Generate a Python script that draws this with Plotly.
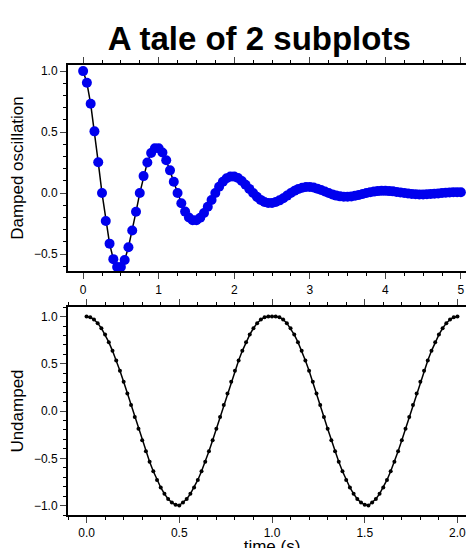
import plotly.graph_objects as go
from plotly.subplots import make_subplots

# damped oscillation (x step 0.05)
x_damped = [round(0.05 * i, 2) for i in range(101)]
y_damped = [1.000, 0.904, 0.732, 0.506, 0.253, 0.0, -0.229, -0.415, -0.542, -0.607,
            -0.607, -0.549, -0.444, -0.307, -0.154, 0.0, 0.139, 0.251, 0.329, 0.368,
            0.368, 0.333, 0.269, 0.186, 0.093, 0.0, -0.084, -0.152, -0.200, -0.223,
            -0.223, -0.202, -0.163, -0.113, -0.057, 0.0, 0.051, 0.092, 0.121, 0.135,
            0.135, 0.123, 0.099, 0.068, 0.034, 0.0, -0.031, -0.056, -0.074, -0.082,
            -0.082, -0.074, -0.060, -0.042, -0.021, 0.0, 0.019, 0.034, 0.044, 0.049,
            0.050, 0.045, 0.036, 0.025, 0.013, 0.0, -0.011, -0.021, -0.027, -0.030,
            -0.030, -0.028, -0.022, -0.015, -0.008, 0.0, 0.007, 0.012, 0.016, 0.018,
            0.018, 0.016, 0.014, 0.009, 0.005, 0.0, -0.004, -0.008, -0.010, -0.011,
            -0.011, -0.010, -0.008, -0.005, -0.003, 0.0, 0.002, 0.005, 0.006, 0.007,
            0.007]

# undamped (x step 0.02)
x_undamped = [round(0.02 * i, 2) for i in range(101)]
half_wave = [1.0, 0.992, 0.969, 0.930, 0.876, 0.809, 0.729, 0.637, 0.536, 0.426,
             0.309, 0.187, 0.063, -0.063, -0.187, -0.309, -0.426, -0.536, -0.637, -0.729,
             -0.809, -0.876, -0.930, -0.969, -0.992, -1.0]
y_undamped = (half_wave + half_wave[-2::-1][1:] + [1.0]) * 2
y_undamped = y_undamped[:101]

top_ticks = [0, 1, 2, 3, 4, 5]
bottom_ticks = [0.0, 0.5, 1.0, 1.5, 2.0]
bottom_ticklabels = ['0.0', '0.5', '1.0', '1.5', '2.0']

font = 'Liberation Sans'

fig = make_subplots(rows=2, cols=1, vertical_spacing=0.08)
fig.add_trace(go.Scatter(x=x_damped, y=y_damped, mode='lines+markers',
                         line=dict(color='black', width=1.5),
                         marker=dict(color='#0000ee', size=10)), row=1, col=1)
fig.add_trace(go.Scatter(x=x_undamped, y=y_undamped, mode='lines+markers',
                         line=dict(color='black', width=1.5),
                         marker=dict(color='black', size=4)), row=2, col=1)

axis_style = dict(showline=True, linecolor='black', linewidth=2, mirror='ticks',
                  ticks='outside', ticklen=6, tickwidth=1, showgrid=False, zeroline=False,
                  automargin=False,
                  tickfont=dict(size=12, color='black'),
                  minor=dict(ticks='outside', ticklen=3, tickcolor='black'))

fig.update_xaxes(**axis_style)
fig.update_yaxes(**axis_style)
fig.update_xaxes(range=[-0.2, 5.2], tickvals=top_ticks, minor_dtick=0.25, row=1, col=1)
fig.update_yaxes(range=[-0.64, 1.05], dtick=0.5, tickformat='.1f', minor_dtick=0.1,
                 title=dict(text='Damped oscillation', font=dict(size=17, color='black'), standoff=6),
                 row=1, col=1)
fig.update_xaxes(range=[-0.1, 2.1], tickvals=bottom_ticks, ticktext=bottom_ticklabels,
                 minor_dtick=0.1,
                 title=dict(text='time (s)', font=dict(size=17, color='black'), standoff=2),
                 row=2, col=1)
fig.update_yaxes(range=[-1.1, 1.1], dtick=0.5, tickformat='.1f', minor_dtick=0.1,
                 title=dict(text='Undamped', font=dict(size=17, color='black'), standoff=6),
                 row=2, col=1)

fig.update_layout(
    width=474, height=548,
    margin=dict(l=60, r=6, t=57, b=41),
    title=dict(text='<b>A tale of 2 subplots</b>', x=0.53, xanchor='center', y=0.965,
               font=dict(size=33, color='black')),
    font=dict(family=font, color='black'),
    showlegend=False,
    plot_bgcolor='white', paper_bgcolor='white',
)
fig.layout.yaxis.domain = [0.542, 1.0]
fig.layout.yaxis2.domain = [0.0, 0.462]

fig.write_html("out.html")
